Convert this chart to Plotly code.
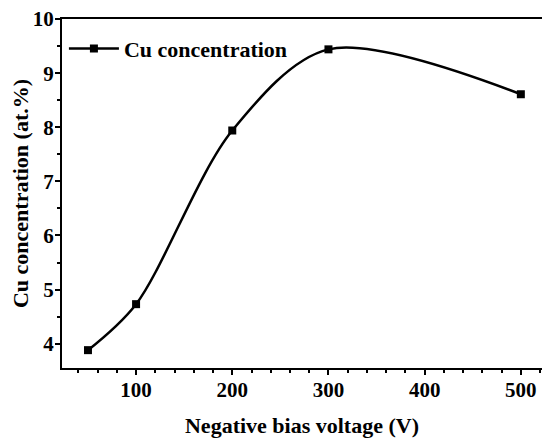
import plotly.graph_objects as go

bias_voltage = [50, 100, 200, 300, 500]
cu_concentration = [3.88, 4.73, 7.94, 9.44, 8.61]

x_tick_vals = [100, 200, 300, 400, 500]
y_tick_vals = [4, 5, 6, 7, 8, 9, 10]

_FONT = "Liberation Serif"
_BLACK = "#000000"
_TICK_SIZE = 21
_TITLE_SIZE = 22

fig = go.Figure()

fig.add_trace(
    go.Scatter(
        x=bias_voltage,
        y=cu_concentration,
        mode="lines+markers",
        name="<b>Cu concentration</b>",
        line={"color": _BLACK, "width": 2.5, "shape": "spline", "smoothing": 0.9},
        marker={"symbol": "square", "size": 8, "color": _BLACK},
    )
)

axis_common = {
    "showline": True,
    "linecolor": _BLACK,
    "linewidth": 2,
    "mirror": True,
    "ticks": "outside",
    "ticklen": 5,
    "tickwidth": 2,
    "tickcolor": _BLACK,
    "showgrid": False,
    "zeroline": False,
    "automargin": False,
    "ticklabeloverflow": "allow",
    "ticklabelstandoff": -3,
    "tickfont": {"family": _FONT, "size": _TICK_SIZE, "color": _BLACK, "weight": "bold"},
    "minor": {"ticks": "outside", "ticklen": 3, "tickwidth": 2, "tickcolor": _BLACK},
}

# page body adds ~8px offset, margins compensate for it
fig.update_layout(
    width=550,
    height=443,
    margin={"l": 54, "r": 16, "t": 11, "b": 83},
    paper_bgcolor="white",
    plot_bgcolor="white",
    font={"family": _FONT, "color": _BLACK},
    showlegend=True,
    legend={
        "x": 0.004,
        "y": 0.915,
        "xanchor": "left",
        "yanchor": "middle",
        "bgcolor": "rgba(0,0,0,0)",
        "font": {"family": _FONT, "size": _TITLE_SIZE, "color": _BLACK},
        "itemwidth": 50,
    },
    xaxis={
        **axis_common,
        "range": [23, 522],
        "tickvals": x_tick_vals,
        "title": {
            "text": "<b>Negative bias voltage (V)</b>",
            "font": {"family": _FONT, "size": _TITLE_SIZE, "color": _BLACK},
            "standoff": 16,
        },
    },
    yaxis={
        **axis_common,
        "range": [3.55, 10.001],
        "tickvals": y_tick_vals,
        "title": {
            "text": "<b>Cu concentration (at.%)</b>",
            "font": {"family": _FONT, "size": _TITLE_SIZE, "color": _BLACK},
            "standoff": 11,
        },
    },
)

fig.write_html("out.html")
